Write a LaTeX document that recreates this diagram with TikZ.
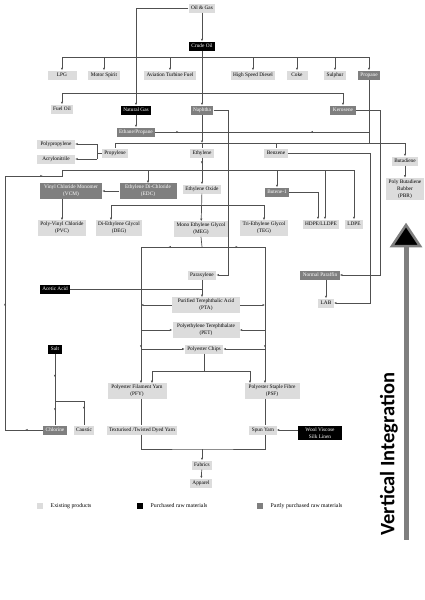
\documentclass[tikz,border=0pt]{standalone}
\usepackage{fontspec}
\setmainfont{Liberation Serif}
\newfontfamily\vifont{Carlito}
\usetikzlibrary{arrows.meta,decorations.markings,positioning}

\definecolor{lightbox}{HTML}{DCDCDC}
\definecolor{darkbox}{HTML}{7F7F7F}
\definecolor{wiregray}{HTML}{505050}

\tikzset{
  prodbox/.style={fill=lightbox, inner xsep=2.5pt, inner ysep=1.8pt, minimum height=9pt,
    align=center, font=\fontsize{5.3}{7}\selectfont},
  partbox/.style={prodbox, fill=darkbox, text=white},
  buybox/.style={prodbox, fill=black, text=white},
  keybox/.style={minimum size=6pt, inner sep=0pt},
  wire/.style={draw=wiregray, line width=0.7pt},
  flow/.style={-{Latex[length=2.4pt,width=2.2pt]}},
  midarrow/.style={postaction={decorate}, decoration={markings,
    mark=at position #1 with {\arrow{Latex[length=2.4pt,width=2.2pt]}}}},
  midarrow/.default=0.5
}

\begin{document}
\begin{tikzpicture}[x=1pt,y=-1pt]
  \useasboundingbox (0,0) rectangle (424,600);
  \path
  node[prodbox] (oil_gas) at (202,8) {Oil \& Gas}
  node[buybox] (crude_oil) at (202,46) {Crude Oil}
  node[prodbox, minimum width=29pt] (lpg) at (62,75) {LPG}
  node[prodbox] (motor_spirit) at (104,75) {Motor Spirit}
  node[prodbox] (atf) at (170,75) {Aviation Turbine Fuel}
  node[prodbox] (hsd) at (253,75) {High Speed Diesel}
  node[prodbox, minimum width=21pt] (coke) at (297,75) {Coke}
  node[prodbox] (sulphur) at (335,75) {Sulphur}
  node[partbox] (propane) at (369,75) {Propane}
  node[prodbox] (fuel_oil) at (62,109) {Fuel Oil}
  node[buybox] (natural_gas) at (136,110) {Natural Gas}
  node[partbox] (naphtha) at (202,110) {Naphtha}
  node[partbox] (kerosene) at (343,110) {Kerosene}
  node[partbox] (ethane_propane) at (136,132) {Ethane/Propane}
  node[prodbox, minimum width=38pt] (polypropylene) at (56,144) {Polypropylene}
  node[prodbox, minimum width=38pt] (acrylonitrile) at (56,159) {Acrylonitrile}
  node[prodbox] (propylene) at (115,153) {Propylene}
  node[prodbox] (ethylene) at (202,153) {Ethylene}
  node[prodbox] (benzene) at (276,153) {Benzene}
  node[prodbox] (butadiene) at (405,161) {Butadiene}
  node[prodbox] (pbr) at (405,189) {Poly Butadiene\\Rubber\\(PBR)}
  node[partbox, minimum width=62pt] (vcm) at (71,191) {Vinyl Chloride Monomer\\(VCM)}
  node[partbox, minimum width=57pt] (edc) at (148,191) {Ethylene Di-Chloride\\(EDC)}
  node[prodbox] (ethylene_oxide) at (202,189) {Ethylene Oxide}
  node[partbox] (butene) at (277,192) {Butene-1}
  node[prodbox] (pvc) at (62,228) {Poly-Vinyl Chloride\\(PVC)}
  node[prodbox] (deg) at (119,228) {Di-Ethylene Glycol\\(DEG)}
  node[prodbox] (meg) at (201,229) {Mono Ethylene Glycol\\(MEG)}
  node[prodbox] (teg) at (264,228) {Tri-Ethylene Glycol\\(TEG)}
  node[prodbox] (hdpe) at (321,224) {HDPE/LLDPE}
  node[prodbox] (ldpe) at (354,224) {LDPE}
  node[prodbox] (paraxylene) at (202,275) {Paraxylene}
  node[partbox] (normal_paraffin) at (320,275) {Normal Paraffin}
  node[buybox] (acetic_acid) at (55,289) {Acetic Acid}
  node[prodbox] (lab) at (326,303) {LAB}
  node[prodbox, minimum width=68pt] (pta) at (206,305) {Purified Terephthalic Acid\\(PTA)}
  node[prodbox, minimum width=67pt] (pet) at (206,330) {Polyethylene Terephthalate\\(PET)}
  node[prodbox] (chips) at (204,349) {Polyester Chips}
  node[buybox] (salt) at (55,349) {Salt}
  node[prodbox, minimum width=59pt] (pfy) at (137,391) {Polyester Filament Yarn\\(PFY)}
  node[prodbox, minimum width=55pt] (psf) at (272,391) {Polyester Staple Fibre\\(PSF)}
  node[partbox] (chlorine) at (55,430) {Chlorine}
  node[prodbox] (caustic) at (84,430) {Caustic}
  node[prodbox] (textured) at (142,430) {Texturised /Twisted Dyed Yarn}
  node[prodbox] (spun_yarn) at (263,430) {Spun Yarn}
  node[buybox, minimum width=44pt] (wool) at (320,433) {Wool Viscose\\Silk Linen}
  node[prodbox] (fabrics) at (202,465) {Fabrics}
  node[prodbox] (apparel) at (201,483) {Apparel}
  ;

  % junctions
  \coordinate (bus_a) at (202,57);
  \coordinate (bus_b) at (202,93);
  \coordinate (feed) at (202,132);
  \coordinate (crack) at (202,143);
  \coordinate (split_p) at (97,153);
  \coordinate (eth_bus) at (202,170);
  \coordinate (cl_in) at (62,170);
  \coordinate (cl_top) at (62,176);
  \coordinate (cl_corner) at (5,176);
  \coordinate (cl_low) at (5,430);
  \coordinate (eo_bus) at (202,205);
  \coordinate (meg_bus) at (202,247);
  \coordinate (loop_w) at (141,247);
  \coordinate (loop_e) at (265,247);
  \coordinate (chips_bus) at (202,371);
  \coordinate (fab_bus) at (202,449);
  \coordinate (salt_split) at (55,401);
  \coordinate (lab_bend) at (370,303);
  \coordinate (np_bend) at (380,275);

  % refinery
  \draw[wire, flow] (oil_gas) -- (crude_oil);
  \draw[wire, flow] (oil_gas.west) -| (natural_gas.north);
  \draw[wire, flow] (crude_oil) -- (naphtha);
  \draw[wire] (lpg.north |- bus_a) -- (propane.north |- bus_a);
  \foreach \n in {lpg,motor_spirit,atf,hsd,coke,sulphur,propane}
    \draw[wire, flow] (\n.north |- bus_a) -- (\n.north);
  \draw[wire] (fuel_oil.north |- bus_b) -- (kerosene.north |- bus_b);
  \foreach \n in {fuel_oil,kerosene}
    \draw[wire, flow] (\n.north |- bus_b) -- (\n.north);

  % cracker
  \draw[wire, flow] (natural_gas) -- (ethane_propane);
  \draw[wire, midarrow] (ethane_propane.east) -- (feed);
  \draw[wire] (propane.south) -- (propane.south |- crack);
  \draw[wire, midarrow=0.35] (propane.south |- feed) -- (feed);
  \draw[wire, flow] (naphtha) -- (crack);
  \draw[wire] (propylene.north |- crack) -- (butadiene.north |- crack);
  \draw[wire] (crack) -- (ethylene.north);
  \draw[wire] (propylene.north |- crack) -- (propylene.north);
  \draw[wire] (benzene.north |- crack) -- (benzene.north);
  \draw[wire, flow] (butadiene.north |- crack) -- (butadiene.north);
  \draw[wire, flow] (butadiene) -- (pbr);

  % propylene
  \draw[wire] (propylene.west) -- (split_p);
  \draw[wire] (split_p |- polypropylene) -- (split_p |- acrylonitrile);
  \draw[wire, flow] (split_p |- polypropylene) -- (polypropylene.east);
  \draw[wire, flow] (split_p |- acrylonitrile) -- (acrylonitrile.east);

  % ethylene
  \draw[wire, midarrow] (ethylene.south) -- (eth_bus);
  \draw[wire] (cl_in) -- (ldpe.north |- eth_bus);
  \draw[wire, flow] (edc.north |- eth_bus) -- (edc.north);
  \draw[wire, flow] (eth_bus) -- (ethylene_oxide.north);
  \draw[wire, flow] (butene.north |- eth_bus) -- (butene.north);
  \draw[wire, flow] ([xshift=4pt]hdpe.north |- eth_bus) -- ([xshift=4pt]hdpe.north);
  \draw[wire, flow] (ldpe.north |- eth_bus) -- (ldpe.north);
  \draw[wire, flow] (butene.east) -| ([xshift=-3pt]hdpe.north);
  \draw[wire, flow] (edc) -- (vcm);
  \draw[wire, flow] (pvc.north |- vcm.south) -- (pvc.north);

  % chlorine and caustic
  \draw[wire, midarrow] (salt) -- (salt_split);
  \draw[wire, midarrow=0.4] (salt_split) -- (chlorine.north);
  \draw[wire, midarrow=0.7] (salt_split) -| (caustic.north);
  \draw[wire, midarrow=0.47] (chlorine.west) -- (cl_low);
  \draw[wire, midarrow] (cl_low) -- (cl_corner);
  \draw[wire, midarrow=0.6] (cl_corner) -- (cl_top) -- (cl_in);

  % glycols
  \draw[wire, flow] (ethylene_oxide) -- (meg);
  \draw[wire, flow] (eo_bus) -| ([xshift=-8pt]deg.north);
  \draw[wire, flow] (eo_bus) -| (teg.north);

  % aromatics and paraffins
  \draw[wire, flow] (naphtha.east) -- ++(15,0) |- (paraxylene.east);
  \draw[wire, flow] (benzene.east) -| (lab_bend) -- (lab.east);
  \draw[wire, flow] (kerosene.east) -| (np_bend) -- (normal_paraffin.east);
  \draw[wire, flow] (lab.north |- normal_paraffin.south) -- (lab.north);

  % polyester
  \draw[wire, flow] (paraxylene) -- (paraxylene |- pta.north);
  \draw[wire] (acetic_acid.east) -- (acetic_acid.east -| paraxylene);
  \draw[wire] (meg.south) -- (meg_bus);
  \draw[wire, midarrow=0.55] (meg_bus) -- (loop_w);
  \draw[wire, midarrow=0.57] (meg_bus) -- (loop_e);
  \draw[wire, flow, midarrow=0.74] (loop_w) -- (loop_w |- pfy.north);
  \draw[wire, flow, midarrow=0.74] (loop_e) -- (loop_e |- psf.north);
  \draw[wire, flow] (pta.west) -- (loop_w |- pta.west);
  \draw[wire, flow] (pta.east) -- (loop_e |- pta.east);
  \draw[wire, flow] (loop_w |- pet) -- (pet.west);
  \draw[wire, flow] (loop_e |- pet) -- (pet.east);
  \draw[wire, flow] (loop_w |- chips) -- (chips.west);
  \draw[wire, flow] (loop_e |- chips) -- (chips.east);
  \draw[wire] (chips.south) -- (chips.south |- chips_bus);
  \draw[wire, flow] (chips.south |- chips_bus) -| ([xshift=15pt]pfy.north);
  \draw[wire, flow] (chips.south |- chips_bus) -| ([xshift=-22pt]psf.north);

  % yarns and fabrics
  \draw[wire] (loop_w |- pfy.south) -- (loop_w |- textured.north);
  \draw[wire] (loop_e |- psf.south) -- (loop_e |- spun_yarn.north);
  \draw[wire, flow] (wool.west |- spun_yarn) -- (spun_yarn.east);
  \draw[wire] (loop_w |- textured.south) |- (fab_bus) -| (loop_e |- spun_yarn.south);
  \draw[wire, flow] (fab_bus) -- (fabrics);
  \draw[wire, flow] (fabrics) -- (apparel);

  % legend
  \path
  node[keybox, fill=lightbox] (key_prod) at (40,506) {}
  node[right=4pt of key_prod, font=\fontsize{5.8}{7}\selectfont] (key_prod_text) {Existing products}
  node[keybox, fill=black] (key_buy) at (140,506) {}
  node[right=4pt of key_buy, font=\fontsize{5.8}{7}\selectfont] (key_buy_text) {Purchased raw materials}
  node[keybox, fill=darkbox] (key_part) at (260,506) {}
  node[right=4pt of key_part, font=\fontsize{5.8}{7}\selectfont] (key_part_text) {Partly purchased raw materials}
  ;

  % vertical integration arrow
  \fill[darkbox] (404,246) rectangle (409,540);
  \filldraw[draw=darkbox, fill=black, line width=2.5pt] (406,225) -- (392,246) -- (420,246) -- cycle;
  \node[rotate=90, font={\vifont\bfseries\fontsize{20.5}{24}\selectfont}] (vi_label) at (389,454) {Vertical Integration};
\end{tikzpicture}
\end{document}
